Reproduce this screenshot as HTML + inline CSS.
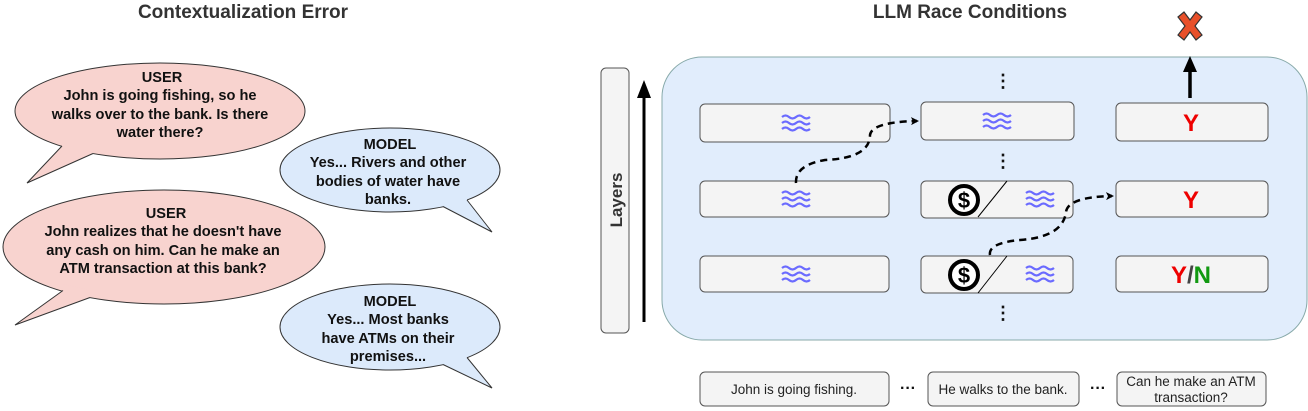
<!DOCTYPE html>
<html><head><style>
body{margin:0;background:#fff;width:1308px;height:411px;overflow:hidden;font-family:"Liberation Sans",sans-serif}
</style></head><body>
<svg width="1308" height="411" viewBox="0 0 1308 411" xmlns="http://www.w3.org/2000/svg" font-family="Liberation Sans, sans-serif" style="display:block">
<defs>
<marker id="ah" markerWidth="8" markerHeight="8" refX="6" refY="4" orient="auto" markerUnits="userSpaceOnUse"><path d="M0,0 L8,4 L0,8 L2,4z" fill="#000"/></marker>
<g id="wv" fill="none" stroke="#6b6bff" stroke-width="2.2">
<path d="M-14,-6 q3.5,-3 7,0 t7,0 t7,0 t7,0"/><path d="M-14,0 q3.5,-3 7,0 t7,0 t7,0 t7,0"/><path d="M-14,6 q3.5,-3 7,0 t7,0 t7,0 t7,0"/>
</g>
<g id="dl"><circle r="14" fill="#fff" stroke="#000" stroke-width="4"/><text y="8" text-anchor="middle" font-size="22" font-weight="bold">$</text></g>
</defs>
<text x="243" y="18" text-anchor="middle" font-size="19" font-weight="bold" fill="#333">Contextualization Error</text>
<text x="970" y="18" text-anchor="middle" font-size="19" font-weight="bold" fill="#333">LLM Race Conditions</text>
<!-- bubbles -->
<g stroke="#333" stroke-width="1">
<ellipse cx="160" cy="111" rx="145" ry="48" fill="#f8d3cf"/>
<path d="M62,140 L62,146 L27,183 L93,153.5 L93,145Z" fill="#f8d3cf" stroke="none"/>
<path d="M62,146 L27,183 L93,153.5" fill="none"/>
<ellipse cx="390" cy="170" rx="110" ry="42" fill="#dceafb"/>
<path d="M443,200 L443,206.5 L492,232 L467,200 L467,195Z" fill="#dceafb" stroke="none"/>
<path d="M443,206.5 L492,232 L467,200" fill="none"/>
<ellipse cx="164" cy="247" rx="161" ry="57" fill="#f8d3cf"/>
<path d="M63,284 L63,290.5 L15,325 L90,297.5 L90,290Z" fill="#f8d3cf" stroke="none"/>
<path d="M63,290.5 L15,325 L90,297.5" fill="none"/>
<ellipse cx="390" cy="327" rx="110" ry="43" fill="#dceafb"/>
<path d="M443,358 L443,364.5 L492,388 L467,357.5 L467,352Z" fill="#dceafb" stroke="none"/>
<path d="M443,364.5 L492,388 L467,357.5" fill="none"/>
</g>
<g font-size="14.6" font-weight="bold" text-anchor="middle" fill="#111">
<text x="162" y="82">USER</text><text x="160" y="100">John is going fishing, so he</text><text x="160" y="119">walks over to the bank. Is there</text><text x="160" y="137">water there?</text>
<text x="390" y="149">MODEL</text><text x="388" y="167">Yes... Rivers and other</text><text x="388" y="186">bodies of water have</text><text x="388" y="204">banks.</text>
<text x="166" y="218">USER</text><text x="163" y="236">John realizes that he doesn't have</text><text x="163" y="255">any cash on him. Can he make an</text><text x="163" y="273">ATM transaction at this bank?</text>
<text x="390" y="306">MODEL</text><text x="388" y="324">Yes... Most banks</text><text x="388" y="343">have ATMs on their</text><text x="388" y="361">premises...</text>
</g>
<!-- right -->
<rect x="601" y="68" width="28" height="265" rx="5" fill="#f4f4f4" stroke="#555"/>
<text transform="translate(622,200) rotate(-90)" text-anchor="middle" font-size="17" font-weight="bold" fill="#333">Layers</text>
<line x1="644" y1="322" x2="644" y2="95" stroke="#000" stroke-width="3"/>
<path d="M637,98 L644,80 L651,98z" fill="#000"/>
<rect x="662" y="57" width="645" height="283" rx="40" fill="#e1edfc" stroke="#8aa" stroke-width="1"/>
<g fill="#f4f4f4" stroke="#555">
<rect x="700" y="104" width="190" height="38" rx="5"/><rect x="921" y="102" width="153" height="38" rx="5"/><rect x="1116" y="103" width="152" height="38" rx="5"/>
<rect x="700" y="181" width="189" height="36" rx="5"/><rect x="921" y="181" width="152" height="37" rx="5"/><rect x="1116" y="181" width="152" height="36" rx="5"/>
<rect x="700" y="256" width="189" height="36" rx="5"/><rect x="921" y="256" width="152" height="37" rx="5"/><rect x="1116" y="256" width="152" height="36" rx="5"/>
<rect x="700" y="372" width="189" height="34" rx="5"/><rect x="928" y="372" width="151" height="34" rx="5"/><rect x="1117" y="372" width="149" height="34" rx="5"/>
</g>
<use href="#wv" x="796" y="123"/><use href="#wv" x="997" y="121"/>
<use href="#wv" x="796" y="199"/><use href="#wv" x="1040" y="199"/>
<use href="#wv" x="796" y="274"/><use href="#wv" x="1040" y="274"/>
<use href="#dl" x="964" y="200"/><use href="#dl" x="964" y="275"/>
<line x1="978" y1="217" x2="1007" y2="181" stroke="#000"/><line x1="978" y1="293" x2="1007" y2="256" stroke="#000"/>
<g font-size="24" font-weight="bold" text-anchor="middle">
<text x="1191" y="131" fill="#e00">Y</text><text x="1191" y="208" fill="#e00">Y</text>
<text x="1191" y="283"><tspan fill="#e00">Y</tspan><tspan fill="#444">/</tspan><tspan fill="#119911">N</tspan></text>
</g>
<g fill="#111" font-size="18" font-weight="bold" text-anchor="middle">
<text x="1003" y="87">⋮</text><text x="1003" y="167">⋮</text><text x="1003" y="319">⋮</text>
</g>
<line x1="1190" y1="98" x2="1190" y2="72" stroke="#000" stroke-width="3.5"/>
<path d="M1183,72 L1190,56 L1197,72z" fill="#000"/>
<path d="M1178,17 L1184,12 L1190,20 L1196,12 L1202,17 L1195,26 L1202,35 L1196,40 L1190,32 L1184,40 L1178,35 L1185,26z" fill="#e8502a" stroke="#333" stroke-width="1.2"/>
<path d="M796,183 Q795,165 825,160 Q870,158 870,135 Q872,122 917,121" fill="none" stroke="#000" stroke-width="2.5" stroke-dasharray="7,5" marker-end="url(#ah)"/>
<path d="M990,255 Q988,243 1020,240 Q1063,237 1066,212 Q1068,197 1112,196" fill="none" stroke="#000" stroke-width="2.5" stroke-dasharray="7,5" marker-end="url(#ah)"/>
<g font-size="13.5" text-anchor="middle" fill="#222">
<text x="794" y="394">John is going fishing.</text>
<text x="1003" y="394">He walks to the bank.</text>
<text x="1191" y="386">Can he make an ATM</text><text x="1191" y="402">transaction?</text>
</g>
<g font-size="16" font-weight="bold" fill="#111" text-anchor="middle"><text x="908" y="393">···</text><text x="1098" y="393">···</text></g>
</svg>
</body></html>
